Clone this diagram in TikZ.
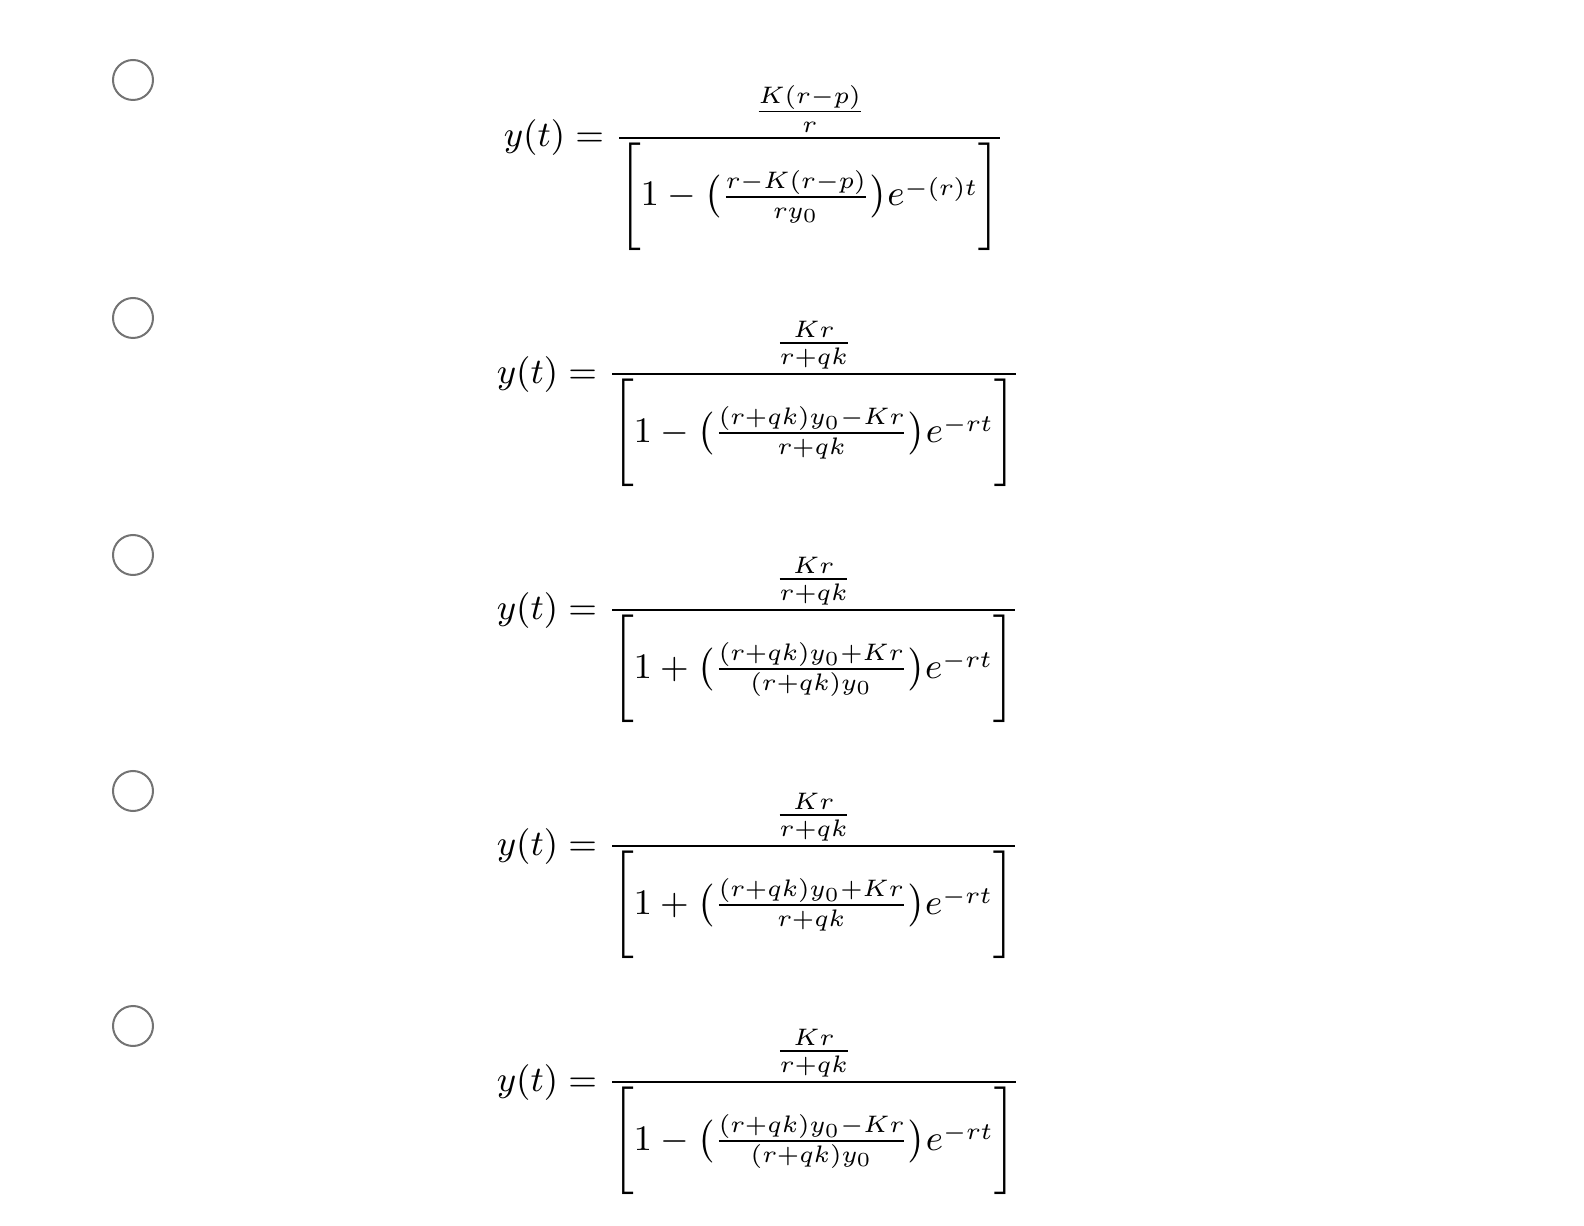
\documentclass[tikz,border=0pt]{standalone}
\usepackage{amsmath}
\begin{document}
\begin{tikzpicture}[x=0.25bp,y=-0.25bp,
  radio/.style={draw=black!55,line width=0.5bp,circle,minimum size=10bp,inner sep=0pt},
  eq/.style={anchor=west,inner sep=0pt,font=\fontsize{9.2}{12}\selectfont}]
\newcommand{\bstrut}{\rule[-2.6ex]{0pt}{5ex}}
\useasboundingbox (0,0) rectangle (1584,1226);
\foreach \i/\y in {1/80,2/318,3/555,4/791,5/1026}{\node[radio] (r\i) at (133,\y) {};}
\node[eq] (f1) at (503,168) {$y(t)=\dfrac{\frac{K(r-p)}{r}}{\left[\bstrut 1-\bigl(\frac{r-K(r-p)}{ry_0}\bigr)e^{-(r)t}\right]}$};
\node[eq] (f2) at (496,404) {$y(t)=\dfrac{\frac{Kr}{r+qk}}{\left[\bstrut 1-\bigl(\frac{(r+qk)y_0-Kr}{r+qk}\bigr)e^{-rt}\right]}$};
\node[eq] (f3) at (496,640) {$y(t)=\dfrac{\frac{Kr}{r+qk}}{\left[\bstrut 1+\bigl(\frac{(r+qk)y_0+Kr}{(r+qk)y_0}\bigr)e^{-rt}\right]}$};
\node[eq] (f4) at (496,876) {$y(t)=\dfrac{\frac{Kr}{r+qk}}{\left[\bstrut 1+\bigl(\frac{(r+qk)y_0+Kr}{r+qk}\bigr)e^{-rt}\right]}$};
\node[eq] (f5) at (496,1112) {$y(t)=\dfrac{\frac{Kr}{r+qk}}{\left[\bstrut 1-\bigl(\frac{(r+qk)y_0-Kr}{(r+qk)y_0}\bigr)e^{-rt}\right]}$};
\end{tikzpicture}
\end{document}
